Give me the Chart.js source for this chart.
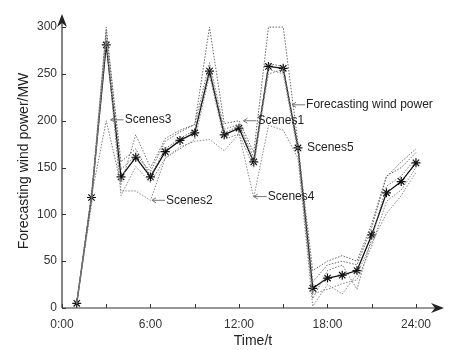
<!DOCTYPE html>
<html>
<head>
<meta charset="utf-8">
<script src="https://cdn.jsdelivr.net/npm/chart.js@4.4.1/dist/chart.umd.min.js"></script>
<style>
  html, body { margin: 0; padding: 0; background: #fff; }
  #wrap { width: 474px; height: 350px; }
</style>
</head>
<body>
<div id="wrap"><canvas id="chart"></canvas></div>
<script>
// hours of the day (x), values in MW
const hours = [1, 2, 3, 4, 5, 6, 7, 8, 9, 10, 11, 12, 13, 14, 15, 16, 17, 18, 19, 20, 21, 22, 23, 24];
const forecast = [5, 118, 281, 140, 161, 140, 167, 179, 187, 253, 185, 192, 156, 258, 256, 171, 21, 32, 35, 40, 78, 123, 135, 155];
const scenes1 = [6, 115, 300, 148, 163, 146, 178, 188, 196, 300, 197, 200, 166, 300, 300, 176, 28, 46, 50, 46, 86, 140, 156, 170];
const scenes2 = [4, 110, 290, 125, 125, 115, 160, 170, 180, 248, 180, 186, 150, 255, 250, 166, 15, 20, 26, 30, 66, 114, 126, 150];
const scenes3 = [6, 120, 200, 132, 185, 150, 181, 190, 196, 262, 191, 196, 161, 250, 255, 170, 10, 40, 46, 20, 75, 130, 141, 160];
const scenes4 = [5, 117, 286, 120, 151, 134, 160, 172, 178, 180, 168, 186, 118, 195, 190, 160, 2, 25, 15, 36, 70, 101, 120, 145];
const scenes5 = [7, 122, 296, 156, 170, 141, 170, 181, 190, 256, 186, 195, 155, 261, 258, 172, 40, 50, 56, 50, 90, 141, 150, 166];
const xTickValues = [0, 3, 6, 9, 12, 15, 18, 21, 24];
const yTickValues = [0, 50, 100, 150, 200, 250, 300];

// labels pointing at the lines: [text, x (hour), y (MW), with arrow]
const notes = [
  ['Scenes3', 3.3, 201, true],
  ['Scenes2', 6.1, 115, true],
  ['Scenes1', 12.3, 200, true],
  ['Forecasting wind power', 15.6, 217, true],
  ['Scenes5', 16.0, 171, false],
  ['Scenes4', 13.0, 119, true]
];

const pts = arr => hours.map((h, i) => ({ x: h, y: arr[i] }));

function sceneSet(label, arr, color, dash) {
  return {
    label: label,
    data: pts(arr),
    borderColor: color,
    borderWidth: 1,
    borderDash: dash,
    pointRadius: 0,
    tension: 0,
    fill: false
  };
}

const decor = {
  id: 'decor',
  afterDraw(chart) {
    const ctx = chart.ctx, xs = chart.scales.x, ys = chart.scales.y;
    const x0 = xs.left, y0 = ys.bottom;
    ctx.save();
    ctx.strokeStyle = '#333';
    ctx.fillStyle = '#222';
    ctx.lineWidth = 1.2;
    ctx.beginPath();
    ctx.moveTo(x0, y0); ctx.lineTo(xs.right - 6, y0);
    ctx.moveTo(x0, y0); ctx.lineTo(x0, ys.top + 6);
    ctx.stroke();
    // arrow heads
    ctx.beginPath();
    ctx.moveTo(xs.right, y0); ctx.lineTo(xs.right - 13, y0 - 5); ctx.lineTo(xs.right - 9, y0); ctx.lineTo(xs.right - 13, y0 + 5);
    ctx.closePath(); ctx.fill();
    ctx.beginPath();
    ctx.moveTo(x0, ys.top); ctx.lineTo(x0 - 5, ys.top + 13); ctx.lineTo(x0, ys.top + 9); ctx.lineTo(x0 + 5, ys.top + 13);
    ctx.closePath(); ctx.fill();
    // inside ticks
    ctx.lineWidth = 1;
    ctx.beginPath();
    xTickValues.forEach(v => {
      const px = Math.round(xs.getPixelForValue(v)) + 0.5;
      ctx.moveTo(px, y0); ctx.lineTo(px, y0 - 4);
    });
    yTickValues.forEach(v => {
      const py = Math.round(ys.getPixelForValue(v)) + 0.5;
      ctx.moveTo(x0, py); ctx.lineTo(x0 + 4, py);
    });
    ctx.stroke();
    // notes
    ctx.font = '12px "Liberation Sans", Arial, sans-serif';
    ctx.textBaseline = 'middle';
    ctx.textAlign = 'left';
    ctx.strokeStyle = '#777';
    notes.forEach(([text, hx, val, arrow]) => {
      const px = xs.getPixelForValue(hx), py = ys.getPixelForValue(val);
      if (arrow) {
        ctx.beginPath();
        ctx.moveTo(px, py); ctx.lineTo(px + 13, py);
        ctx.moveTo(px, py); ctx.lineTo(px + 4, py - 2.5);
        ctx.moveTo(px, py); ctx.lineTo(px + 4, py + 2.5);
        ctx.stroke();
        ctx.fillStyle = '#222';
        ctx.fillText(text, px + 14, py);
      } else {
        ctx.fillStyle = '#222';
        ctx.fillText(text, px + 9, py);
      }
    });
    ctx.restore();
  }
};

new Chart(document.getElementById('chart'), {
  type: 'line',
  data: {
    datasets: [
      sceneSet('Scenes1', scenes1, '#666', [1.5, 1.5]),
      sceneSet('Scenes2', scenes2, '#888', [1.5, 1.5]),
      sceneSet('Scenes3', scenes3, '#777', [1.5, 1.5]),
      sceneSet('Scenes4', scenes4, '#888', [1.5, 1.5]),
      sceneSet('Scenes5', scenes5, '#666', [1.5, 1.5]),
      {
        label: 'Forecasting wind power',
        data: pts(forecast),
        borderColor: '#111',
        borderWidth: 1.3,
        pointStyle: 'star',
        pointRadius: 4.5,
        pointBorderColor: '#111',
        pointBorderWidth: 1.2,
        pointBackgroundColor: '#111',
        tension: 0,
        fill: false
      }
    ]
  },
  options: {
    responsive: true,
    maintainAspectRatio: false,
    animation: false,
    layout: { padding: { top: 14, right: 30, left: 0, bottom: 0 } },
    plugins: {
      legend: { display: false },
      tooltip: { enabled: false }
    },
    scales: {
      x: {
        type: 'linear',
        min: 0,
        max: 25.9,
        grid: { display: false, drawTicks: false, tickLength: 0 },
        border: { display: false },
        afterFit: s => { s.height = 42; },
        afterBuildTicks: s => { s.ticks = xTickValues.map(v => ({ value: v })); },
        ticks: {
          autoSkip: false,
          maxRotation: 0,
          padding: 9,
          color: '#333',
          font: { family: '"Liberation Sans", Arial, sans-serif', size: 12 },
          callback: v => (v % 6 === 0 ? v + ':00' : '')
        },
        title: {
          display: true,
          text: 'Time/t',
          color: '#222',
          padding: { top: 0, bottom: 0 },
          font: { family: '"Liberation Sans", Arial, sans-serif', size: 14 }
        }
      },
      y: {
        min: 0,
        max: 314,
        grid: { display: false, drawTicks: false, tickLength: 0 },
        border: { display: false },
        afterFit: s => { s.width = 62; },
        afterBuildTicks: s => { s.ticks = yTickValues.map(v => ({ value: v })); },
        ticks: {
          padding: 5,
          color: '#333',
          font: { family: '"Liberation Sans", Arial, sans-serif', size: 12 }
        },
        title: {
          display: true,
          text: 'Forecasting wind power/MW',
          color: '#222',
          padding: { top: 16, bottom: 0 },
          font: { family: '"Liberation Sans", Arial, sans-serif', size: 14 }
        }
      }
    }
  },
  plugins: [decor]
});
</script>
</body>
</html>
